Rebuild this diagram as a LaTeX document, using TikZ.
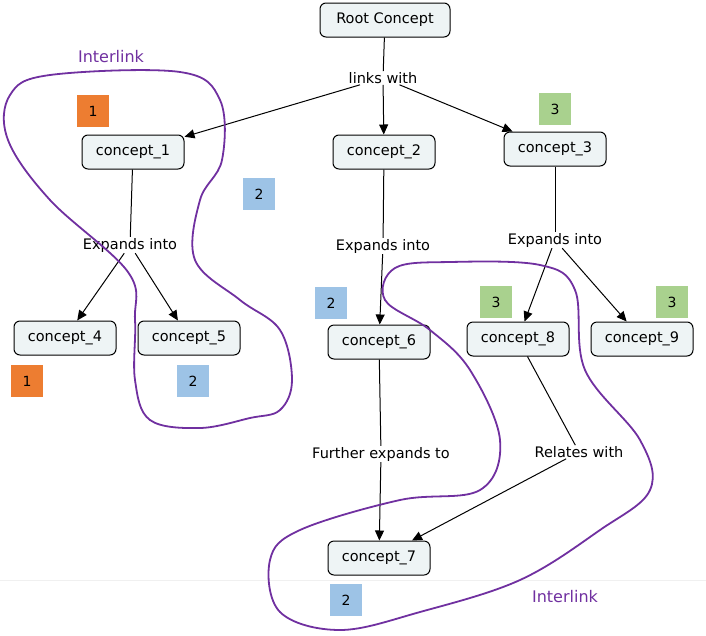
\documentclass[tikz,border=0pt]{standalone}
\usepackage{fontspec}
\setmainfont{DejaVu Sans}
\usetikzlibrary{arrows.meta}
\definecolor{nodefill}{HTML}{EEF4F5}
\definecolor{borange}{HTML}{ED7D31}
\definecolor{bblue}{HTML}{9DC3E6}
\definecolor{bgreen}{HTML}{A9D18E}
\definecolor{ipurple}{HTML}{7030A0}
\begin{document}
\begin{tikzpicture}[x=1pt,y=-1pt,
  concept/.style={draw=black,line width=1pt,fill=nodefill,rounded corners=6pt,minimum width=102pt,minimum height=34pt,font=\fontsize{14.5}{16}\selectfont},
  lbl/.style={fill=white,inner sep=1pt,font=\fontsize{14.5}{16}\selectfont},
  badge/.style={minimum size=32pt,inner sep=0pt,font=\fontsize{14}{16}\selectfont},
  arr/.style={-{Triangle[length=10pt,width=9pt]},line width=1pt},
  ln/.style={line width=1pt},
  loop/.style={ipurple,line width=1.8pt}]
\useasboundingbox (0,0) rectangle (706,635);
\draw[black!6] (0,580) -- (706,580);

\node[concept,minimum width=130pt] (root) at (385,20) {Root Concept};
\node[concept] (c1) at (133,152) {concept\_1};
\node[concept] (c2) at (384,152) {concept\_2};
\node[concept] (c3) at (555,149) {concept\_3};
\node[concept] (c4) at (65,338) {concept\_4};
\node[concept] (c5) at (189,338) {concept\_5};
\node[concept] (c6) at (379,342) {concept\_6};
\node[concept] (c8) at (518,339) {concept\_8};
\node[concept] (c9) at (642,339) {concept\_9};
\node[concept] (c7) at (379,558) {concept\_7};

\node[lbl] (l0) at (383,78) {links with};
\node[lbl] (l1) at (130,245) {Expands into};
\node[lbl] (l2) at (383,246) {Expands into};
\node[lbl] (l3) at (555,240) {Expands into};
\node[lbl] (l6) at (381,454) {Further expands to};
\node[lbl] (l8) at (579,452) {Relates with};

\draw[ln] (root) -- (l0);
\draw[arr] (l0) -- (c1);
\draw[arr] (l0) -- (c2);
\draw[arr] (l0) -- (c3);
\draw[ln] (c1) -- (l1);
\draw[arr] (l1) -- (c4);
\draw[arr] (l1) -- (c5);
\draw[ln] (c2) -- (l2);
\draw[arr] (l2) -- (c6);
\draw[ln] (c3) -- (l3);
\draw[arr] (l3) -- (c8);
\draw[arr] (l3) -- (c9);
\draw[ln] (c6) -- (l6);
\draw[arr] (l6) -- (c7);
\draw[ln] (c8) -- (l8);
\draw[arr] (l8) -- (c7);

\node[badge,fill=borange] (b1a) at (93,111) {1};
\node[badge,fill=borange] (b1b) at (27,381) {1};
\node[badge,fill=bblue] (b2a) at (259,194) {2};
\node[badge,fill=bblue] (b2b) at (193,381) {2};
\node[badge,fill=bblue] (b2c) at (331,303) {2};
\node[badge,fill=bblue] (b2d) at (346,600) {2};
\node[badge,fill=bgreen] (b3a) at (555,109) {3};
\node[badge,fill=bgreen] (b3b) at (496,302) {3};
\node[badge,fill=bgreen] (b3c) at (672,302) {3};

\node[text=ipurple,font=\fontsize{16}{18}\selectfont] (il1) at (111,57) {Interlink};
\node[text=ipurple,font=\fontsize{16}{18}\selectfont] (il2) at (565,597) {Interlink};

\draw[loop] plot[smooth cycle,tension=0.6] coordinates {
 (50,75) (180,72) (220,100) (222,160) (200,200) (195,260) (240,300)
 (280,330) (292,380) (280,410) (250,418) (200,428) (150,420) (135,380)
 (135,320) (128,272) (50,200) (8,140) (10,95)};
\draw[loop] plot[smooth cycle,tension=0.6] coordinates {
 (395,268) (450,262) (540,265) (575,290) (585,370) (640,440) (650,490)
 (600,530) (520,580) (420,612) (340,630) (280,612) (270,560) (300,530)
 (400,500) (480,490) (500,440) (470,370) (430,330) (385,300)};
\end{tikzpicture}
\end{document}
